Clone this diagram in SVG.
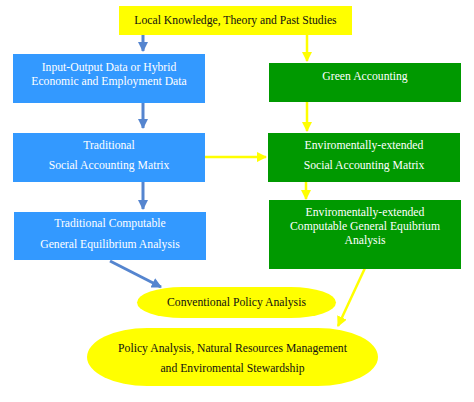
<svg xmlns="http://www.w3.org/2000/svg" width="474" height="402" viewBox="0 0 474 402">
<defs>
<marker id="bh" viewBox="0 0 10 10" refX="9" refY="5" markerWidth="3.4" markerHeight="3.4" orient="auto" markerUnits="strokeWidth"><path d="M0,0 L10,5 L0,10 z" fill="#5585cf"/></marker>
<marker id="yh" viewBox="0 0 10 10" refX="9" refY="5" markerWidth="4.2" markerHeight="4.2" orient="auto" markerUnits="strokeWidth"><path d="M0,0 L10,5 L0,10 z" fill="#ffff00"/></marker>
</defs>
<style>
text{font-family:"Liberation Serif","Times New Roman",serif;font-size:11.7px;text-anchor:middle}
.y{fill:#ffff00}
.b{fill:#3399ff}
.g{fill:#009900}
.w{fill:#ffffff}
.k{fill:#111111}
.ba{stroke:#5585cf;stroke-width:3;fill:none;marker-end:url(#bh)}
.ya{stroke:#ffff00;stroke-width:2.5;fill:none;marker-end:url(#yh)}
</style>
<rect width="474" height="402" fill="#ffffff"/>
<g id="connectors">
<path class="ba" d="M143,35 L143,51"/>
<path class="ba" d="M143,103 L143,128"/>
<path class="ba" d="M143,182 L143,209"/>
<path class="ba" d="M110,261 L161,287"/>
<path class="ya" d="M307,35 L307,61"/>
<path class="ya" d="M307,102 L307,131"/>
<path class="ya" d="M306,182 L306,199"/>
<path class="ya" d="M205,157 L266,157"/>
<path class="ya" d="M365,268 L338,326"/>
</g>
<g id="top"><rect class="y" x="119" y="6" width="233" height="29"/><text class="k" x="235.5" y="24">Local Knowledge, Theory and Past Studies</text></g>
<g id="io"><rect class="b" x="13" y="54" width="192" height="49"/><text class="w" x="109" y="71">Input-Output Data or Hybrid</text><text class="w" x="109" y="85">Economic and Employment Data</text></g>
<g id="green"><rect class="g" x="269" y="63" width="192" height="39"/><text class="w" x="365" y="80">Green Accounting</text></g>
<g id="sam"><rect class="b" x="13" y="133" width="192" height="49"/><text class="w" x="109" y="149">Traditional</text><text class="w" x="109" y="169">Social Accounting Matrix</text></g>
<g id="esam"><rect class="g" x="268" y="133" width="192" height="49"/><text class="w" x="364" y="149">Enviromentally-extended</text><text class="w" x="364" y="169">Social Accounting Matrix</text></g>
<g id="cge"><rect class="b" x="14" y="212" width="192" height="48"/><text class="w" x="110" y="227">Traditional Computable</text><text class="w" x="110" y="248">General Equilibrium Analysis</text></g>
<g id="ecge"><rect class="g" x="269" y="200" width="192" height="69"/><text class="w" x="365" y="216">Enviromentally-extended</text><text class="w" x="365" y="230">Computable General Equibrium</text><text class="w" x="365" y="244">Analysis</text></g>
<g id="cpa"><rect class="y" x="137" y="287" width="199" height="31" rx="45" ry="15.5"/><text class="k" x="236.5" y="306">Conventional Policy Analysis</text></g>
<g id="pa"><rect class="y" x="87" y="328" width="291" height="58" rx="60" ry="29"/><text class="k" x="232.5" y="352">Policy Analysis, Natural Resources Management</text><text class="k" x="232.5" y="372">and Enviromental Stewardship</text></g>
</svg>
